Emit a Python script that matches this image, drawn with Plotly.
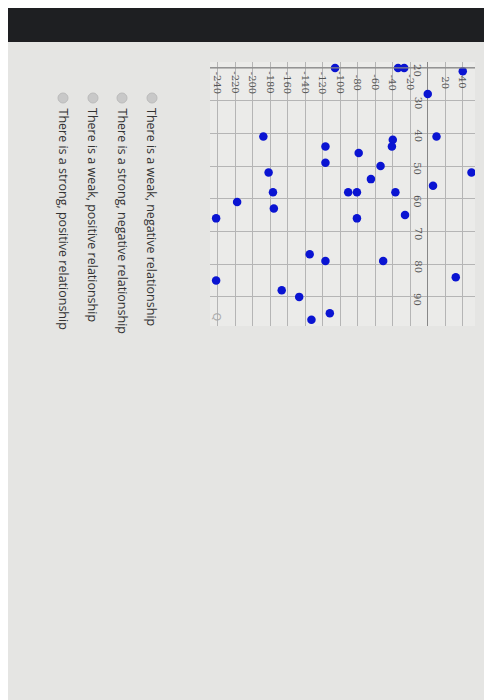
import plotly.graph_objects as go

# scatter values (chart is photographed rotated: v runs horizontally, u vertically)
v_vals = [40, -34, -27, -106, 0, 10, -40, -41, -117, -188, -79, -117, 50, -54, -182, -65,
          6, -177, -91, -81, -37, -218, -176, -242, -81, -26, -135, -117, -51, 32, -242,
          -167, -147, -112, -133]
u_vals = [21, 20, 20, 20, 28, 41, 42, 44, 44, 41, 46, 49, 52, 50, 52, 54,
          56, 58, 58, 58, 58, 61, 63, 66, 66, 65, 77, 79, 79, 84, 85,
          88, 90, 95, 97]

v_ticks = [40, 20, -20, -40, -60, -80, -100, -120, -140, -160, -180, -200, -220, -240]
u_ticks = [20, 30, 40, 50, 60, 70, 80, 90]

options = ["There is a weak, negative relationship",
           "There is a strong, negative relationship",
           "There is a weak, positive relationship",
           "There is a strong, positive relationship"]

# page has an 8px body margin, so pixel positions below are offset by it
OFF = 8
W, H = 492 - OFF, 700 - OFF


def px(x):
    return (x - OFF) / W


def py(y):
    return 1 - (y - OFF) / H


fig = go.Figure()
fig.add_trace(go.Scatter(x=v_vals, y=u_vals, mode='markers',
                         marker=dict(color='#0a14d2', size=8.5), showlegend=False))

annotations = []
for t in v_ticks:
    annotations.append(dict(x=t, y=24.5, xref='x', yref='y', text=str(t), showarrow=False,
                            textangle=90, font=dict(family='DejaVu Serif', size=10, color='#555'),
                            yanchor='middle', xanchor='center'))
for t in u_ticks:
    annotations.append(dict(x=-11, y=t + 0.7, xref='x', yref='y', text=str(t), showarrow=False,
                            textangle=90, font=dict(family='DejaVu Serif', size=10, color='#555')))
annotations.append(dict(x=-242, y=96, xref='x', yref='y', text='Q', showarrow=False,
                        textangle=90, font=dict(family='DejaVu Sans', size=11, color='#aaa')))

shapes = [
    dict(type='rect', xref='paper', yref='paper', x0=0, x1=1, y0=py(42), y1=1,
         fillcolor='#1e1f22', line_width=0, layer='below'),
    dict(type='line', xref='x', yref='y', x0=-250, x1=54, y0=20, y1=20,
         line=dict(color='#888', width=1.2)),
]
opt_x = [152, 122, 93, 63]
for i, txt in enumerate(options):
    x = opt_x[i]
    shapes.append(dict(type='circle', xref='paper', yref='paper',
                       x0=px(x - 5), x1=px(x + 5), y0=py(103), y1=py(93),
                       fillcolor='#c8c8c8', line=dict(color='#bbb', width=1)))
    annotations.append(dict(x=px(x), y=py(106), xref='paper', yref='paper', text=txt,
                            showarrow=False, textangle=90, xanchor='center', yanchor='top',
                            font=dict(family='Open Sans', size=12.5, color='#333')))

fig.update_layout(
    width=W, height=H, margin=dict(l=0, r=0, t=0, b=0),
    paper_bgcolor='#e5e5e3', plot_bgcolor='#ebebe9',
    xaxis=dict(domain=[px(210), px(475)], range=[-249, 54], dtick=20, tick0=0,
               showticklabels=False, gridcolor='#b5b5b5', zeroline=True,
               zerolinecolor='#888', zerolinewidth=1.2),
    yaxis=dict(domain=[py(326), py(62)], range=[98.9, 18.2], dtick=10, tick0=0,
               showticklabels=False, gridcolor='#b5b5b5', zeroline=False),
    shapes=shapes, annotations=annotations,
)
fig.write_html("out.html")
